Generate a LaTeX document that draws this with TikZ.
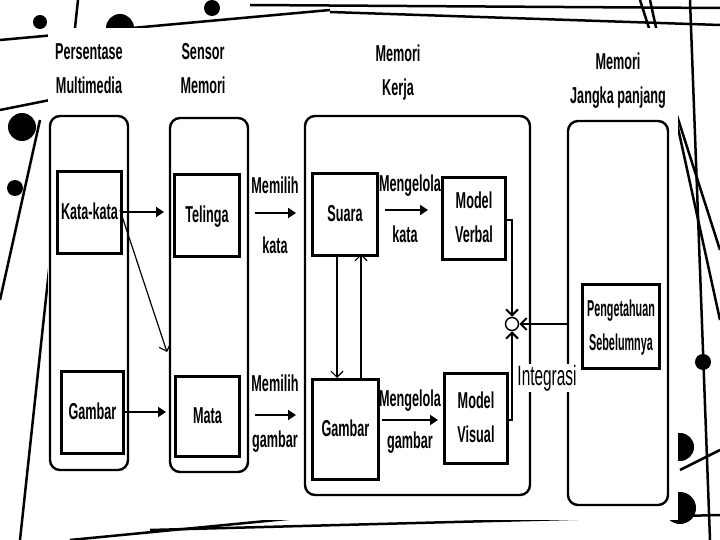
\documentclass[tikz,border=0pt]{standalone}
\usepackage{graphicx}
\usepackage{fontspec}
\setmainfont{Liberation Sans}
\usetikzlibrary{arrows.meta}
\newcommand{\nt}[1]{\scalebox{.55}[1]{\bfseries\begin{tabular}{@{}c@{}}#1\end{tabular}}}
\newcommand{\ntn}[1]{\scalebox{.47}[1]{\bfseries\begin{tabular}{@{}c@{}}#1\end{tabular}}}
\tikzset{
 col/.style={draw,line width=2.4pt,rounded corners=10pt},
 bx/.style={draw,line width=3pt,anchor=north west,inner sep=0pt,font=\fontsize{23}{34}\selectfont},
 lab/.style={font=\fontsize{23}{34}\selectfont,inner sep=0pt},
 ar/.style={line width=2.6pt,-{Triangle[length=8pt,width=10pt]}},
 tharr/.style={line width=1.2pt,-{Straight Barb[length=6pt]}},
 bg/.style={line width=2.5pt},
}
\begin{document}
\begin{tikzpicture}[x=1pt,y=-1pt]
\useasboundingbox (0,0) rectangle (720,540);
\draw[bg] (0,40)--(330,10); \draw[bg] (0,110)--(200,70);
\draw[bg] (20,540)--(78,0); \draw[bg] (0,300)--(40,120);
\draw[bg] (330,12)--(720,25); \draw[bg] (250,5)--(720,8);
\draw[bg] (690,0)--(710,540); \draw[bg] (640,0)--(720,250);
\draw[bg] (650,0)--(720,320); \draw[bg] (680,470)--(720,450);
\draw[bg] (70,540)--(380,510); \draw[bg] (150,530)--(720,515);
\fill (40,22) circle (7); \fill (120,28) circle (14); \fill (212,8) circle (8);
\fill (22,127) circle (14); \fill (15,188) circle (8); \fill (703,362) circle (8);
\fill (680,447) circle (14); \fill (680,508) circle (16);
\fill[white] (48,28) rectangle (678,520);
\node[lab] (h1) at (89,70) {\nt{Persentase\\Multimedia}};
\node[lab] (h2) at (203,70) {\nt{Sensor\\Memori}};
\node[lab] (h3) at (398,72) {\nt{Memori\\Kerja}};
\node[lab] (h4) at (618,80) {\nt{Memori\\Jangka panjang}};
\draw[col] (50,116) rectangle (128,470);
\draw[col] (170,118) rectangle (248,472);
\draw[col] (305,116) rectangle (530,495);
\draw[col] (568,121) rectangle (668,505);
\node[bx,minimum width=64,minimum height=82] (kk) at (56,170) {\nt{Kata-kata}};
\node[bx,minimum width=62,minimum height=82] (g1) at (60,370) {\nt{Gambar}};
\node[bx,minimum width=65,minimum height=82] (te) at (173,173) {\nt{Telinga}};
\node[bx,minimum width=64,minimum height=80] (ma) at (174,375) {\nt{Mata}};
\node[bx,minimum width=65,minimum height=82] (su) at (311,172) {\nt{Suara}};
\node[bx,minimum width=66,minimum height=100] (g3) at (311,378) {\nt{Gambar}};
\node[bx,minimum width=63,minimum height=82] (mv) at (441,176) {\nt{Model\\Verbal}};
\node[bx,minimum width=63,minimum height=90] (mvi) at (443,372) {\nt{Model\\Visual}};
\node[bx,minimum width=77,minimum height=84] (pg) at (581,283) {\ntn{Pengetahuan\\Sebelumnya}};
\coordinate (k1) at (122,212); \coordinate (k2) at (164,212);
\draw[ar] (k1) -- (k2);
\coordinate (k3) at (120,210);
\draw[line width=1.2pt,-{Straight Barb[length=6pt]}] (k3) -- (167,352);
\coordinate (g1a) at (124,412); \coordinate (g1b) at (166,412);
\draw[ar] (g1a) -- (g1b);
\coordinate (a1) at (255,213); \coordinate (a2) at (296,213);
\draw[ar] (a1) -- (a2);
\node[lab] (l1) at (275,187) {\nt{Memilih}}; \node[lab] (l2) at (275,247) {\nt{kata}};
\coordinate (b1) at (255,415); \coordinate (b2) at (296,415);
\draw[ar] (b1) -- (b2);
\node[lab] (l3) at (275,385) {\nt{Memilih}}; \node[lab] (l4) at (275,441) {\nt{gambar}};
\coordinate (c1) at (385,210); \coordinate (c2) at (428,210);
\draw[ar] (c1) -- (c2);
\node[lab] (l5) at (410,185) {\nt{Mengelola}}; \node[lab] (l6) at (405,236) {\nt{kata}};
\coordinate (d1) at (382,420); \coordinate (d2) at (438,420);
\draw[ar] (d1) -- (d2);
\node[lab] (l7) at (410,400) {\nt{Mengelola}}; \node[lab] (l8) at (410,442) {\nt{gambar}};
\coordinate (s1) at (337,254); \coordinate (s2) at (337,378);
\coordinate (s3) at (361,378); \coordinate (s4) at (361,254);
\draw[tharr] (s1) -- (s2);
\draw[tharr] (s3) -- (s4);
\node[draw,line width=1.5pt,circle,minimum size=13pt,inner sep=0pt] (ci) at (512,324) {};
\coordinate (v1) at (504,220); \coordinate (v2) at (512,220);
\coordinate (w1) at (506,420); \coordinate (w2) at (512,420);
\coordinate (p1) at (568,324);
\draw[line width=2pt,-{Straight Barb[length=6pt]}] (v1) -- (v2) -- (ci.north);
\draw[line width=2pt,-{Straight Barb[length=6pt]}] (w1) -- (w2) -- (ci.south);
\draw[line width=2pt,-{Straight Barb[length=6pt]}] (p1) -- (ci.east);
\node[fill=white,inner sep=1pt,font=\fontsize{28}{30}\selectfont] (in) at (547,378) {\scalebox{.55}[1]{Integrasi}};
\end{tikzpicture}
\end{document}
